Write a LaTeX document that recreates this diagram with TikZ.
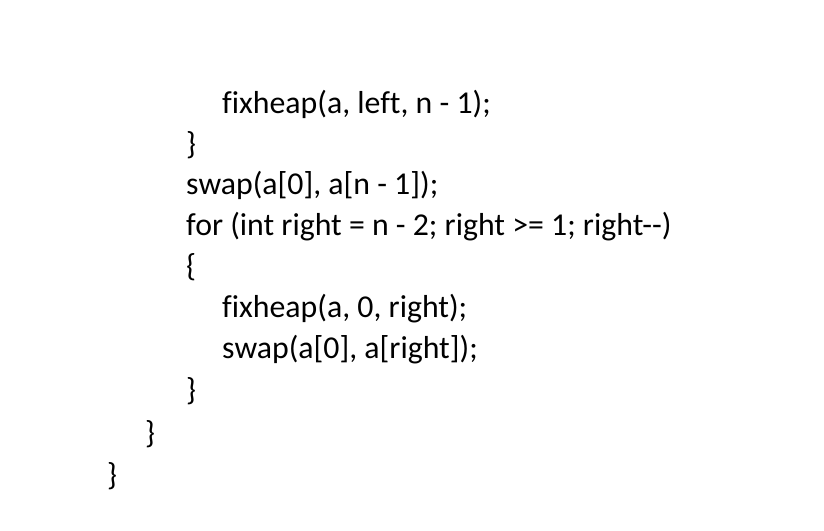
\documentclass[tikz,border=0pt]{standalone}
\usepackage{fontspec}
\setmainfont{Carlito}[Ligatures={NoCommon}]
\begin{document}
\begin{tikzpicture}[x=1pt,y=-1pt,code/.style={anchor=base west,inner sep=0pt,font=\fontsize{31.8}{36}\selectfont}]
\useasboundingbox[fill=white] (0,0) rectangle (824,530);
\node[code] (l1) at (222,113) {fixheap(a, left, n - 1);};
\node[code] (l2) at (186,154) {\}};
\node[code] (l3) at (186,194) {swap(a[0], a[n - 1]);};
\node[code] (l4) at (186,235) {for (int right = n - 2; right >= 1; right-{}-)};
\node[code] (l5) at (186,276) {\{};
\node[code] (l6) at (222,317) {fixheap(a, 0, right);};
\node[code] (l7) at (222,358) {swap(a[0], a[right]);};
\node[code] (l8) at (186,400) {\}};
\node[code] (l9) at (145,443) {\}};
\node[code] (l10) at (107,485) {\}};
\end{tikzpicture}
\end{document}
